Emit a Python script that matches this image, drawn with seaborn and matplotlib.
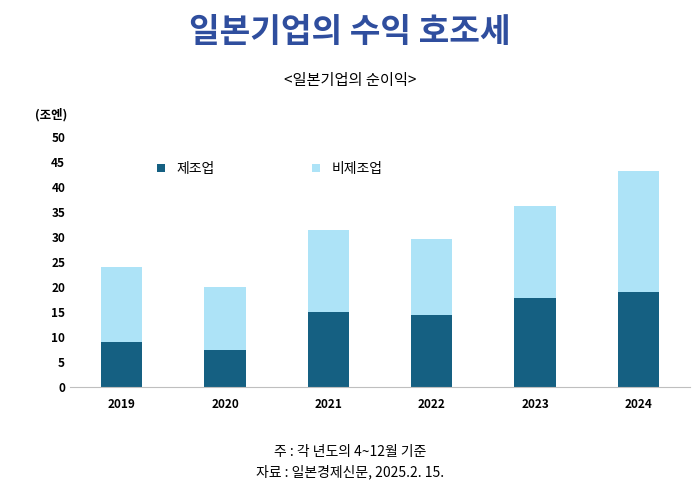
import matplotlib
matplotlib.use("Agg")
import matplotlib.pyplot as plt
import seaborn as sns
import pandas as pd

years = ["2019", "2020", "2021", "2022", "2023", "2024"]
manufacturing = [8.9, 7.4, 14.9, 14.4, 17.8, 18.9]
non_manufacturing = [15.0, 12.5, 16.5, 15.1, 18.3, 24.2]
yticks = list(range(0, 55, 5))

plt.rcParams["font.family"] = "Noto Sans CJK KR"
dark, light = "#156082", "#ADE3F7"

df = pd.DataFrame({"year": years, "m": manufacturing,
                   "total": [a + b for a, b in zip(manufacturing, non_manufacturing)]})

fig = plt.figure(figsize=(7, 4.94), dpi=100)
ax = fig.add_axes([0.1, 0.217, 0.886, 0.506])
sns.barplot(data=df, x="year", y="total", color=light, width=0.4, ax=ax,
            label="비제조업", saturation=1)
sns.barplot(data=df, x="year", y="m", color=dark, width=0.4, ax=ax,
            label="제조업", saturation=1)
ax.set_ylim(0, 50)
ax.set_yticks(yticks)
ax.set_xlabel(""); ax.set_ylabel("")
for s in ["top", "right", "left"]:
    ax.spines[s].set_visible(False)
ax.spines["bottom"].set_color("#BFBFBF")
ax.tick_params(length=0, labelsize=8.5)
for t in ax.get_xticklabels() + ax.get_yticklabels():
    t.set_fontweight("bold")
ax.tick_params(axis="x", pad=8)

h, l = ax.get_legend_handles_labels()
ax.legend([h[1], h[0]], [l[1], l[0]], loc="upper left", bbox_to_anchor=(0.12, 0.95),
          ncol=2, frameon=False, handlelength=0.6, handleheight=0.6,
          columnspacing=7, fontsize=10)

fig.text(0.5, 0.935, "일본기업의 수익 호조세", ha="center", va="center",
         fontsize=24, fontweight="bold", color="#2F4E9E")
fig.text(0.5, 0.838, "<일본기업의 순이익>", ha="center", va="center", fontsize=11)
fig.text(0.05, 0.767, "(조엔)", ha="left", va="center", fontsize=9, fontweight="bold")
fig.text(0.5, 0.085, "주 : 각 년도의 4~12월 기준", ha="center", va="center", fontsize=10)
fig.text(0.5, 0.045, "자료 : 일본경제신문, 2025.2. 15.", ha="center", va="center", fontsize=10)
fig.savefig("out.png", dpi=100)
